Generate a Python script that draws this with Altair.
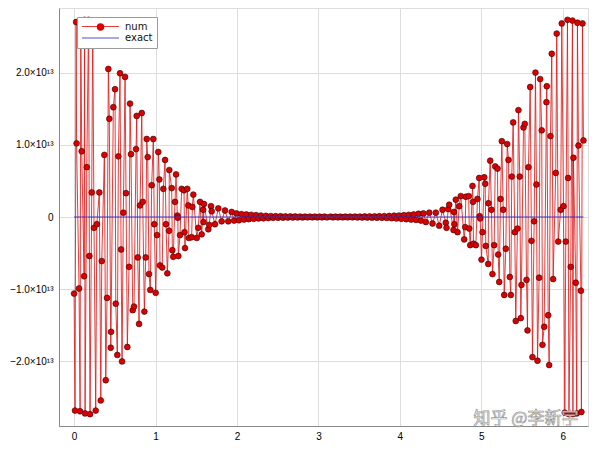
import altair as alt
import pandas as pd

# values of "num" in units of 1e13 (x, value)
left_pts = [
    (0.000, -1.06), (0.012, -2.68), (0.025, 2.70), (0.031, 1.02), (0.061, -0.99), (0.074, -2.69),
    (0.082, 2.72), (0.094, 0.91), (0.123, -0.82), (0.129, 2.73), (0.135, -2.72), (0.156, 0.69),
    (0.178, 2.73), (0.188, -0.54), (0.196, -2.73), (0.217, 0.34), (0.229, 2.71), (0.245, -0.15),
    (0.266, -2.68), (0.279, -0.10), (0.310, 0.34), (0.328, -2.54), (0.340, -0.61), (0.372, 0.86),
    (0.389, -2.26), (0.405, -1.12), (0.421, 2.05), (0.433, 1.36), (0.450, -1.81), (0.454, -1.59),
    (0.482, 1.52), (0.503, 1.77), (0.512, -1.20), (0.531, -1.91), (0.544, 0.84), (0.564, 1.99),
    (0.577, -0.45), (0.589, -2.00), (0.605, 0.06), (0.626, 1.94), (0.638, 0.33), (0.654, -1.80),
    (0.675, -0.69), (0.687, 1.57), (0.699, 0.87), (0.720, -1.29), (0.736, -1.24), (0.761, 0.94),
    (0.769, 1.40), (0.782, -0.56), (0.798, -1.48), (0.810, 0.16), (0.831, 1.44), (0.843, 0.21),
    (0.863, -1.31), (0.880, -0.56), (0.892, 1.08), (0.904, 0.83), (0.920, -0.79), (0.936, -1.01),
    (0.953, 0.44), (0.973, 1.08), (0.985, -0.10), (1.002, -1.05), (1.018, -0.25), (1.034, 0.90),
    (1.047, 0.52), (1.055, -0.67), (1.083, -0.70), (1.096, 0.39), (1.117, 0.79), (1.129, -0.10),
    (1.145, -0.78), (1.166, -0.19), (1.169, 0.65), (1.199, 0.40), (1.206, -0.46), (1.218, -0.55),
    (1.239, 0.21), (1.252, 0.59), (1.268, 0.02), (1.274, -0.01), (1.280, -0.54), (1.301, -0.25),
    (1.321, 0.39), (1.350, 0.37), (1.356, -0.21), (1.362, -0.43), (1.390, 0.39), (1.402, 0.16),
    (1.409, -0.29), (1.444, -0.28), (1.452, 0.14), (1.464, 0.31), (1.506, -0.29), (1.525, -0.15),
    (1.546, 0.21), (1.567, -0.24), (1.585, 0.10), (1.590, -0.07), (1.595, 0.18), (1.648, -0.17),
    (1.660, -0.11), (1.681, 0.15), (1.690, 0.08), (1.730, -0.10), (1.771, 0.12), (1.812, -0.06),
    (1.853, 0.09), (1.893, -0.06), (1.935, 0.07),
]

mid_pts = [
    (1.965, -0.05), (1.995, 0.05), (2.025, -0.045), (2.055, 0.04), (2.085, -0.035), (2.115, 0.035),
    (2.145, -0.03), (2.175, 0.03), (2.205, -0.025), (2.235, 0.025), (2.265, -0.02), (2.295, 0.02),
    (2.325, -0.018), (2.355, 0.016), (2.385, -0.014), (2.415, 0.013), (2.445, -0.012), (2.475, 0.011),
    (2.505, -0.010), (2.535, 0.010), (2.565, -0.009), (2.595, 0.009), (2.625, -0.008), (2.655, 0.008),
    (2.685, -0.007), (2.715, 0.007), (2.745, -0.006), (2.775, 0.006), (2.805, -0.006), (2.835, 0.005),
    (2.865, -0.005), (2.895, 0.005), (2.925, -0.005), (2.955, 0.005), (2.985, -0.005), (3.015, 0.005),
    (3.045, -0.005), (3.075, 0.005), (3.105, -0.005),
    (3.149, 0.005), (3.179, -0.005), (3.209, 0.005), (3.239, -0.005), (3.269, 0.005), (3.299, -0.005),
    (3.329, 0.005), (3.359, -0.005), (3.389, 0.005), (3.419, -0.005), (3.449, 0.006), (3.479, -0.006),
    (3.509, 0.006), (3.539, -0.007), (3.569, 0.007), (3.599, -0.008), (3.629, 0.008), (3.659, -0.009),
    (3.689, 0.009), (3.719, -0.010), (3.749, 0.010), (3.779, -0.011), (3.809, 0.012), (3.839, -0.013),
    (3.869, 0.014), (3.899, -0.016), (3.929, 0.018), (3.959, -0.02), (3.989, 0.02), (4.019, -0.025),
    (4.049, 0.025), (4.079, -0.03), (4.109, 0.03), (4.139, -0.035), (4.169, 0.035), (4.199, -0.04),
    (4.229, 0.045), (4.259, -0.05), (4.289, 0.05),
]

right_pts = [
    (4.319, -0.07), (4.361, 0.06), (4.401, -0.09), (4.442, 0.06), (4.483, -0.12), (4.524, 0.10),
    (4.564, -0.08), (4.573, -0.15), (4.594, 0.11), (4.606, 0.17), (4.659, -0.18), (4.664, 0.07),
    (4.669, -0.10), (4.687, 0.24), (4.708, -0.21), (4.729, 0.15), (4.748, 0.29), (4.790, -0.31),
    (4.802, -0.14), (4.810, 0.28), (4.845, 0.29), (4.852, -0.16), (4.864, -0.39), (4.892, 0.43),
    (4.898, 0.21), (4.904, -0.37), (4.933, -0.39), (4.953, 0.25), (4.974, 0.54), (4.980, 0.01),
    (4.986, -0.02), (5.002, -0.59), (5.015, -0.21), (5.036, 0.55), (5.048, 0.46), (5.055, -0.40),
    (5.085, -0.65), (5.088, 0.19), (5.109, 0.78), (5.125, 0.10), (5.137, -0.79), (5.158, -0.39),
    (5.171, 0.70), (5.199, 0.67), (5.207, -0.52), (5.220, -0.90), (5.236, 0.25), (5.252, 1.05),
    (5.269, 0.10), (5.281, -1.08), (5.301, -0.44), (5.318, 1.01), (5.334, 0.79), (5.350, -0.83),
    (5.362, -1.08), (5.374, 0.56), (5.391, 1.31), (5.411, -0.21), (5.423, -1.44), (5.444, -0.16),
    (5.456, 1.48), (5.472, 0.56), (5.485, -1.40), (5.493, -0.94), (5.518, 1.24), (5.534, 1.29),
    (5.555, -0.87), (5.567, -1.57), (5.579, 0.69), (5.600, 1.80), (5.616, -0.33), (5.628, -1.94),
    (5.649, -0.06), (5.665, 2.00), (5.677, 0.45), (5.690, -1.99), (5.710, -0.84), (5.723, 1.91),
    (5.742, 1.20), (5.751, -1.77), (5.772, -1.52), (5.800, 1.59), (5.804, 1.81), (5.821, -1.36),
    (5.833, -2.05), (5.849, 1.12), (5.865, 2.26), (5.882, -0.86), (5.914, 0.61), (5.926, 2.54),
    (5.944, -0.34), (5.975, 0.10), (5.988, 2.68), (6.009, 0.15), (6.025, -2.71), (6.037, -0.34),
    (6.058, 2.73), (6.066, 0.54), (6.076, -2.73), (6.098, -0.69), (6.119, 2.72), (6.125, -2.73),
    (6.131, 0.82), (6.160, -0.91), (6.172, -2.72), (6.180, 2.69), (6.193, 0.99), (6.223, -1.02),
    (6.229, -2.70), (6.242, 2.68), (6.254, 1.06),
]

exact_x = [0.0, 6.254]
exact_y = [0.0, 0.0]

series_names = ["num", "exact"]
series_colors = ["#e31a1a", "#3535c4"]
watermark = ["知乎 @李新宇"]

num_df = pd.DataFrame(
    [{"x": x, "y": y, "series": "num"} for x, y in left_pts + mid_pts + right_pts]
)
exact_df = pd.DataFrame({"x": exact_x, "y": exact_y, "series": ["exact"] * len(exact_x)})
wm_df = pd.DataFrame({"t": watermark})

xscale = alt.Scale(domain=[-0.185, 6.31], nice=False, zero=False)
yscale = alt.Scale(domain=[-2.894, 2.894], nice=False, zero=False)
cscale = alt.Scale(domain=series_names, range=series_colors)

xaxis = alt.Axis(values=[0, 1, 2, 3, 4, 5, 6], title=None, ticks=False, labelPadding=5, format="d")
yaxis = alt.Axis(
    values=[-2, -1, 0, 1, 2], title=None, ticks=False, labelPadding=6,
    labelExpr="datum.value == 0 ? '0' : format(datum.value, '.1f') + '×10¹³'",
)

line_legend = alt.Legend(
    title=None, orient="none", legendX=18, legendY=9,
    strokeColor="#9a9a9a", fillColor="white", padding=4, cornerRadius=0,
    labelFont="DejaVu Sans", labelFontSize=10, labelColor="#111", labelOffset=5,
    symbolType="stroke", symbolSize=1369, symbolStrokeWidth=1.1,
    clipHeight=11, rowPadding=0.5, zindex=1,
)
dot_legend = alt.Legend(
    title=None, orient="none", legendX=37, legendY=14.5, padding=0,
    labelExpr="''", labelFontSize=1, symbolType="circle", symbolSize=55,
    symbolFillColor="#dd0000", symbolStrokeColor="#330000", symbolStrokeWidth=0.8,
    symbolOpacity=1, zindex=2,
)

line = alt.Chart(num_df).mark_line(strokeWidth=1, opacity=0.85).encode(
    x=alt.X("x:Q", scale=xscale, axis=xaxis),
    y=alt.Y("y:Q", scale=yscale, axis=yaxis),
    color=alt.Color("series:N", scale=cscale, legend=line_legend),
)
pts = alt.Chart(num_df).mark_point(
    filled=True, size=34, opacity=1, fill="#dd0000", stroke="#330000", strokeWidth=0.6
).encode(
    x="x:Q", y="y:Q",
    shape=alt.Shape("series:N", scale=alt.Scale(domain=["num"], range=["circle"]), legend=dot_legend),
)
exact = alt.Chart(exact_df).mark_line(strokeWidth=1).encode(
    x="x:Q", y="y:Q",
    color=alt.Color("series:N", scale=cscale, legend=line_legend),
)
wm = alt.Chart(wm_df).mark_text(
    font="Noto Sans CJK SC", fontSize=17, fill="white", stroke="#8f8f8f", strokeWidth=0.7,
    opacity=0.9, align="center", baseline="middle",
).encode(text="t:N", x=alt.value(467), y=alt.value(411))

chart = alt.layer(line, pts, exact, wm).properties(
    width=529, height=418,
    autosize=alt.AutoSizeParams(type="none"),
    padding={"left": 51, "top": 0, "right": 4, "bottom": 16},
).resolve_scale(shape="independent").configure_view(strokeOpacity=0).configure_axis(
    gridColor="#e6e6e6", gridWidth=0.8, domainColor="#222", domainWidth=1,
    labelFont="Liberation Sans", labelFontSize=10, labelColor="#222",
).configure(background="white")

chart.save("out.html", embed_options={"renderer": "svg", "actions": False})
